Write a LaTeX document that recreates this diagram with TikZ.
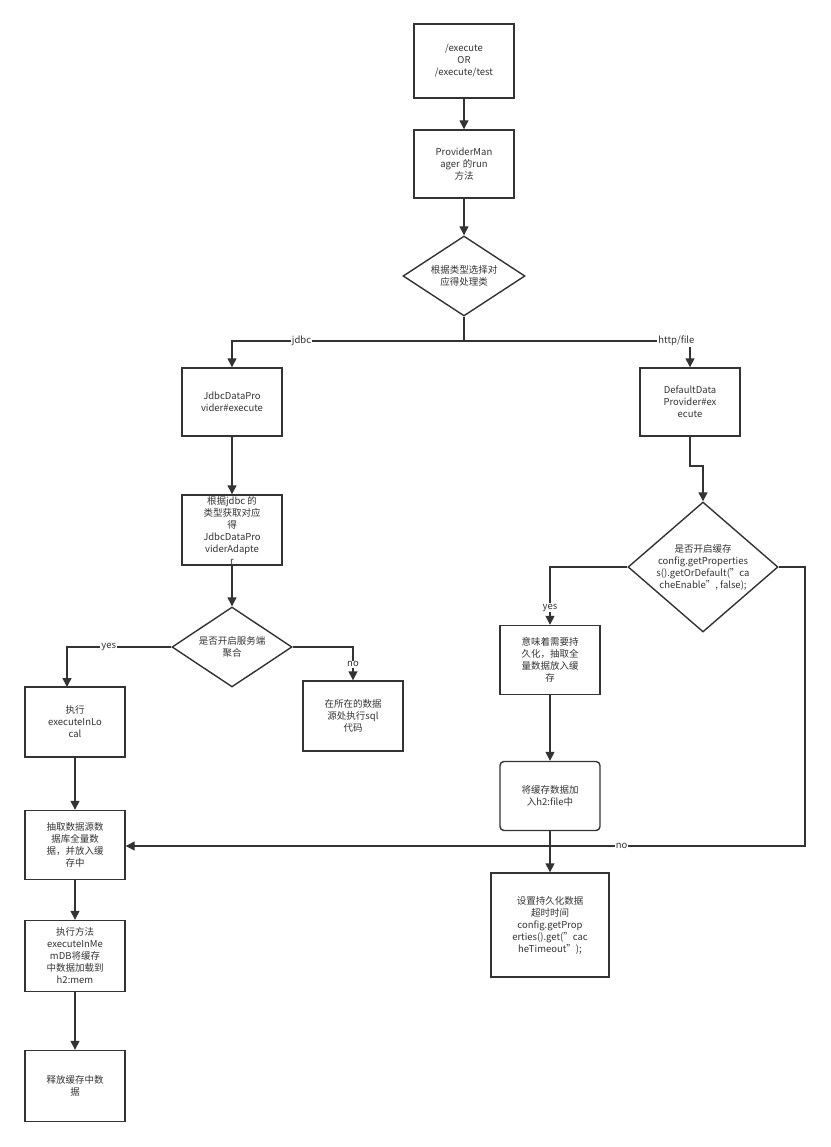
\documentclass[tikz,border=0pt]{standalone}
\usepackage{fontspec}
\setmainfont{Noto Sans CJK SC}
\usetikzlibrary{shapes.geometric,arrows.meta}
\definecolor{ink}{HTML}{333333}
\begin{document}
\begin{tikzpicture}[x=1pt,y=-1pt,
  every node/.style={text=ink,font=\fontsize{9.5}{12}\selectfont,align=center},
  bx/.style={draw=ink,line width=1.4pt,minimum width=100pt,minimum height=70pt,text width=88pt,inner sep=1pt},
  dm/.style={draw=ink,line width=1.4pt,diamond,aspect=1.5,inner sep=0pt},
  ar/.style={draw=ink,line width=1.4pt,-{Triangle[length=9pt,width=9pt]}},
  lb/.style={fill=white,inner sep=1pt}]
\useasboundingbox (0,0) rectangle (830,1147);
\node[bx,minimum height=74pt] (n1) at (464,61) {/execute\\OR\\/execute/test};
\node[bx,minimum height=68pt] (n2) at (464,164) {ProviderMan\\ager 的run\\方法};
\node[dm,minimum width=122pt,minimum height=80pt] (d1) at (464,276) {};
\node at (464,276) {根据类型选择对\\应得处理类};
\node[bx,minimum height=68pt] (j1) at (232,402) {JdbcDataPro\\vider\#execute};
\node[bx,minimum height=70pt] (j2) at (232,530) {};
\node at (232,530) {根据jdbc 的\\类型获取对应\\得\\JdbcDataPro\\viderAdapte\\r};
\node[dm,minimum width=120pt,minimum height=80pt] (d3) at (232,647) {};
\node at (232,647) {是否开启服务端\\聚合};
\node[bx] (e1) at (75,722) {执行\\executeInLo\\cal};
\node[bx] (s1) at (353,716) {在所在的数据\\源处执行sql\\代码};
\node[bx,minimum height=69pt] (e2) at (75,845) {抽取数据源数\\据库全量数\\据，并放入缓\\存中};
\node[bx,minimum height=71pt] (e3) at (75,956) {};
\node at (75,956) {执行方法\\executeInMe\\mDB将缓存\\中数据加载到\\h2:mem};
\node[bx,minimum height=71pt] (e4) at (75,1086) {释放缓存中数\\据};
\node[bx,minimum height=68pt] (r1) at (690,402) {DefaultData\\Provider\#ex\\ecute};
\node[dm,minimum width=150pt,minimum height=130pt] (d2) at (703,567) {};
\node at (703,567) {是否开启缓存\\config.getProperties\\s().getOrDefault("ca\\cheEnable", false);};
\node[bx,minimum height=69pt] (p1) at (550,660) {意味着需要持\\久化，抽取全\\量数据放入缓\\存};
\node[bx,minimum height=69pt,rounded corners=4pt] (p2) at (550,796) {将缓存数据加\\入h2:file中};
\node[bx,minimum width=118pt,minimum height=104pt,text width=104pt] (p3) at (550,925) {设置持久化数据\\超时时间\\config.getProp\\erties().get("cac\\heTimeout");};
\draw[ar] (n1) -- (n2);
\draw[ar] (n2) -- (d1);
\coordinate (b1) at (464,341);
\draw[ar] (d1.south) -- (b1) -| node[lb,pos=0.35] {jdbc} (j1.north);
\draw[ar] (b1) -| node[lb,pos=0.47] {http/file} (r1.north);
\draw[ar] (j1) -- (j2);
\draw[ar] (j2) -- (d3);
\draw[ar] (d3.west) -| node[lb,pos=0.3] {yes} (67,687);
\draw[ar] (d3.east) -| node[lb,pos=0.76] {no} (s1.north);
\draw[ar] (e1) -- (e2);
\draw[ar] (e2) -- (e3);
\draw[ar] (e3) -- (e4);
\draw[ar] (r1.south) -- (690,466) -- (703,466) -- (d2.north);
\draw[ar] (d2.west) -| node[lb,pos=0.85] {yes} (p1.north);
\draw[ar] (d2.east) -- (805,567) -- (805,846) -- node[lb,pos=0.27] {no} (e2.east |- 0,846);
\draw[ar] (p1) -- (p2);
\draw[ar] (p2) -- (p3);
\end{tikzpicture}
\end{document}
